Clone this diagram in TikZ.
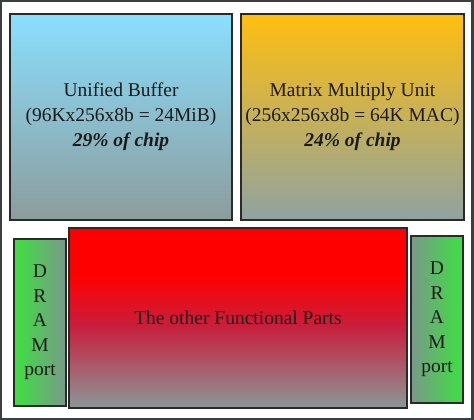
\documentclass[tikz,border=0pt]{standalone}
\usepackage{fontspec}
\setmainfont{Liberation Serif}
\definecolor{frameC}{HTML}{3C3F3F}
\definecolor{edgeC}{HTML}{2A2A2A}
\definecolor{txtC}{HTML}{1A1A1A}
\definecolor{cyanTop}{HTML}{8ADFFF}
\definecolor{cyanBot}{HTML}{8C9C9C}
\definecolor{goldTop}{HTML}{FFBE10}
\definecolor{goldMid}{HTML}{D8B840}
\definecolor{goldBot}{HTML}{8FA3A0}
\definecolor{redGray}{HTML}{8A9898}
\definecolor{crim}{HTML}{C81E3C}
\definecolor{pureRed}{HTML}{FF0000}
\definecolor{greenC}{HTML}{3DE040}
\definecolor{greenGray}{HTML}{789A88}
\pgfdeclareverticalshading{redsh}{100bp}{color(0bp)=(redGray); color(25bp)=(redGray); color(48bp)=(crim); color(62bp)=(pureRed); color(75bp)=(pureRed); color(100bp)=(pureRed)}
\begin{document}
\begin{tikzpicture}[x=1pt,y=-1pt,
  blk/.style={draw=edgeC, line width=1.3pt, rectangle, inner sep=0pt, outer sep=0pt,
    text=txtC, align=center},
  bigtxt/.style={font=\fontsize{19.5}{25}\selectfont},
  dramtxt/.style={font=\fontsize{19.5}{24.5}\selectfont}]
\useasboundingbox (0,0) rectangle (474,420);
\fill[white] (0,0) rectangle (474,420);
\draw[draw=frameC, line width=2.2pt] (1.1,1.1) rectangle (472.5,418.6);
\node[blk, bigtxt, top color=cyanTop, bottom color=cyanBot,
  minimum width=222pt, minimum height=206pt] (ub) at (121,117)
  {Unified Buffer\\(96Kx256x8b = 24MiB)\\\textbf{\textit{29\% of chip}}};
\node[blk, bigtxt, top color=goldTop, middle color=goldMid, bottom color=goldBot,
  minimum width=223pt, minimum height=206pt] (mmu) at (352.5,117)
  {Matrix Multiply Unit\\(256x256x8b = 64K MAC)\\\textbf{\textit{24\% of chip}}};
\node[blk, bigtxt, shading=redsh,
  minimum width=338pt, minimum height=180pt] (other) at (238,318)
  {The other Functional Parts};
\node[blk, dramtxt, left color=greenC, right color=greenGray,
  minimum width=52pt, minimum height=167pt] (dl) at (40,322.5)
  {D\\R\\A\\M\\port};
\node[blk, dramtxt, left color=greenGray, right color=greenC,
  minimum width=52pt, minimum height=167pt] (dr) at (437,319.5)
  {D\\R\\A\\M\\port};
\end{tikzpicture}
\end{document}
